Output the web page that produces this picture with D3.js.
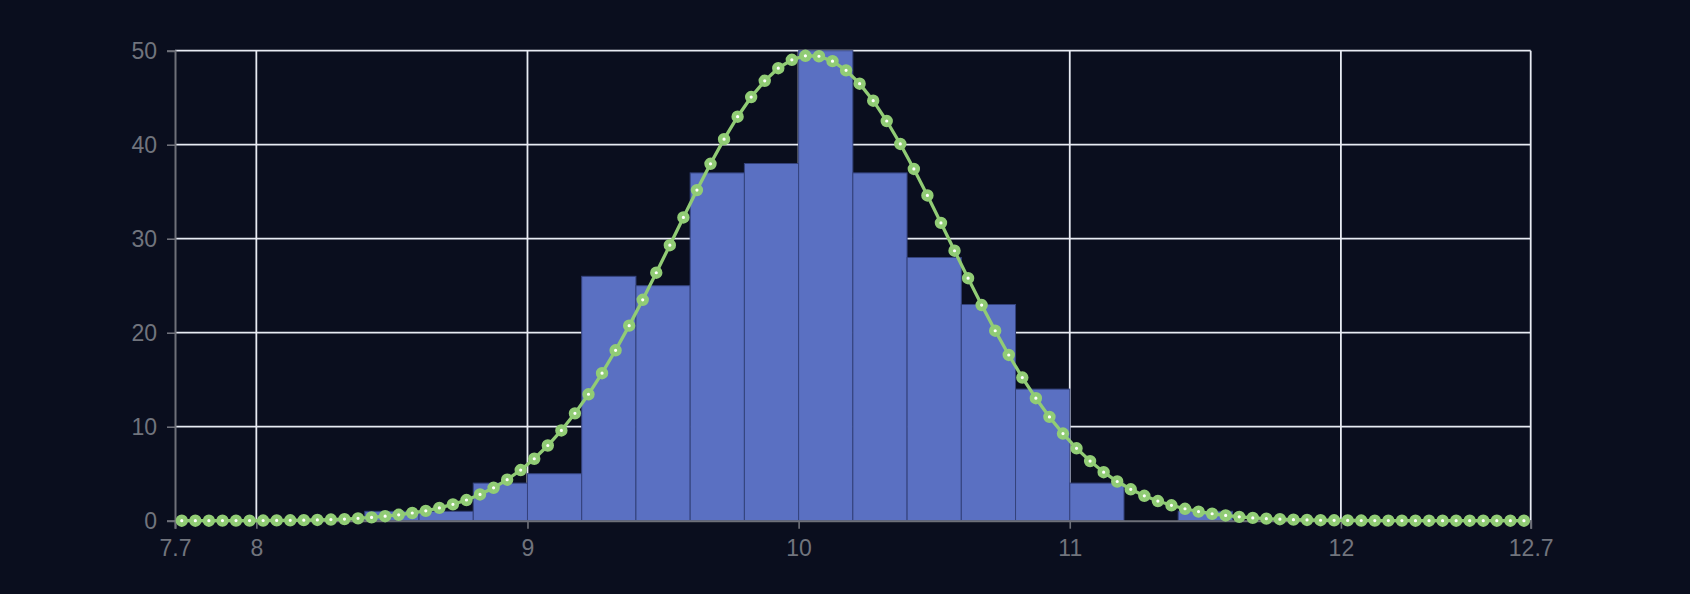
<!DOCTYPE html>
<html>
<head>
<meta charset="utf-8">
<script src="https://cdn.jsdelivr.net/npm/d3@7"></script>
<style>
  html, body { margin: 0; padding: 0; background: #0a0e1e; }
  svg { display: block; }
  .tick text { font-family: "Liberation Sans", Arial, sans-serif; }
</style>
</head>
<body>
<div id="chart"></div>
<script>
// histogram bins (edges) and counts
var binEdges = [8.4, 8.6, 8.8, 9.0, 9.2, 9.4, 9.6, 9.8, 10.0, 10.2, 10.4, 10.6, 10.8, 11.0, 11.2, 11.4, 11.6];
var binCounts = [1, 1, 4, 5, 26, 25, 37, 38, 50, 37, 28, 23, 14, 4, 0, 1];

// fitted curve
var curveX = [
  7.725, 7.775, 7.825, 7.875, 7.925, 7.975,
  8.025, 8.075, 8.125, 8.175, 8.225, 8.275, 8.325, 8.375, 8.425, 8.475,
  8.525, 8.575, 8.625, 8.675, 8.725, 8.775, 8.825, 8.875, 8.925, 8.975,
  9.025, 9.075, 9.125, 9.175, 9.225, 9.275, 9.325, 9.375, 9.425, 9.475,
  9.525, 9.575, 9.625, 9.675, 9.725, 9.775, 9.825, 9.875, 9.925, 9.975,
  10.025, 10.075, 10.125, 10.175, 10.225, 10.275, 10.325, 10.375, 10.425, 10.475,
  10.525, 10.575, 10.625, 10.675, 10.725, 10.775, 10.825, 10.875, 10.925, 10.975,
  11.025, 11.075, 11.125, 11.175, 11.225, 11.275, 11.325, 11.375, 11.425, 11.475,
  11.525, 11.575, 11.625, 11.675, 11.725, 11.775, 11.825, 11.875, 11.925, 11.975,
  12.025, 12.075, 12.125, 12.175, 12.225, 12.275, 12.325, 12.375, 12.425, 12.475,
  12.525, 12.575, 12.625, 12.675
];
var curveY = [
  0.00, 0.00, 0.00, 0.01, 0.01, 0.01,
  0.02, 0.03, 0.04, 0.06, 0.08, 0.12, 0.17, 0.25, 0.35, 0.48,
  0.63, 0.82, 1.05, 1.36, 1.74, 2.20, 2.79, 3.50, 4.36, 5.39,
  6.59, 8.00, 9.60, 11.42, 13.45, 15.69, 18.13, 20.75, 23.50, 26.38,
  29.31, 32.26, 35.17, 37.97, 40.59, 42.98, 45.07, 46.80, 48.14, 49.03,
  49.46, 49.41, 48.89, 47.91, 46.49, 44.68, 42.52, 40.08, 37.42, 34.60,
  31.68, 28.72, 25.80, 22.94, 20.21, 17.63, 15.23, 13.03, 11.04, 9.27,
  7.70, 6.34, 5.16, 4.17, 3.34, 2.65, 2.09, 1.64, 1.27, 0.97,
  0.74, 0.56, 0.41, 0.30, 0.22, 0.16, 0.11, 0.08, 0.05, 0.04,
  0.03, 0.02, 0.01, 0.01, 0.01, 0.00, 0.00, 0.00, 0.00, 0.00,
  0.00, 0.00, 0.00, 0.00
];

var xTicks = [7.7, 8, 9, 10, 11, 12, 12.7];
var yTicks = [0, 10, 20, 30, 40, 50];
var xDomain = [7.7, 12.7];
var yDomain = [0, 50];

var width = 1690, height = 594;
var margin = {top: 50.7, right: 159.3, bottom: 73.3, left: 175};

var svg = d3.select("#chart")
  .append("svg")
  .attr("width", width)
  .attr("height", height);

var x = d3.scaleLinear().domain(xDomain).range([margin.left, width - margin.right]);
var y = d3.scaleLinear().domain(yDomain).range([height - margin.bottom, margin.top]);

// grid (behind everything)
var grid = svg.append("g").attr("class", "grid");
grid.selectAll("line.h")
  .data(yTicks.filter(function(d) { return d > 0; }))
  .enter().append("line")
  .attr("x1", x(xDomain[0])).attr("x2", x(xDomain[1]))
  .attr("y1", function(d) { return y(d); })
  .attr("y2", function(d) { return y(d); })
  .attr("stroke", "#e8ebf3").attr("stroke-width", 1.8);
grid.selectAll("line.v")
  .data(xTicks.filter(function(d) { return d > xDomain[0]; }))
  .enter().append("line")
  .attr("y1", y(yDomain[0])).attr("y2", y(yDomain[1]))
  .attr("x1", function(d) { return x(d); })
  .attr("x2", function(d) { return x(d); })
  .attr("stroke", "#e8ebf3").attr("stroke-width", 1.8);

// bars
svg.append("g")
  .selectAll("rect")
  .data(binCounts)
  .enter().append("rect")
  .attr("x", function(d, i) { return x(binEdges[i]); })
  .attr("width", function(d, i) { return x(binEdges[i + 1]) - x(binEdges[i]); })
  .attr("y", function(d) { return y(d); })
  .attr("height", function(d) { return y(0) - y(d); })
  .attr("fill", "#5a70c2")
  .attr("stroke", function(d) { return d > 0 ? "#34427c" : "none"; })
  .attr("stroke-width", 1);

// axes
var xAxis = d3.axisBottom(x).tickValues(xTicks).tickFormat(d3.format("")).tickSizeOuter(0).tickSize(8).tickPadding(11);
var yAxis = d3.axisLeft(y).tickValues(yTicks).tickSizeOuter(0).tickSize(8).tickPadding(10);

var gx = svg.append("g")
  .attr("transform", "translate(0," + y(0) + ")")
  .call(xAxis);
var gy = svg.append("g")
  .attr("transform", "translate(" + x(xDomain[0]) + ",0)")
  .call(yAxis);

[gx, gy].forEach(function(g) {
  g.select(".domain").attr("stroke", "#6e7079").attr("stroke-width", 2);
  g.selectAll(".tick line").attr("stroke", "#6e7079").attr("stroke-width", 1.6);
  g.selectAll(".tick text")
    .attr("fill", "#71747d")
    .style("font-size", "23px");
});

// curve + markers
var pts = curveX.map(function(d, i) { return [d, curveY[i]]; });
var line = d3.line()
  .x(function(d) { return x(d[0]); })
  .y(function(d) { return y(d[1]); });

svg.append("path")
  .datum(pts)
  .attr("d", line)
  .attr("fill", "none")
  .attr("stroke", "#91cc75")
  .attr("stroke-width", 3.3);

svg.append("g")
  .selectAll("circle")
  .data(pts)
  .enter().append("circle")
  .attr("cx", function(d) { return x(d[0]); })
  .attr("cy", function(d) { return y(d[1]); })
  .attr("r", 3.9)
  .attr("fill", "#ffffff")
  .attr("stroke", "#91cc75")
  .attr("stroke-width", 4.6);
</script>
</body>
</html>
